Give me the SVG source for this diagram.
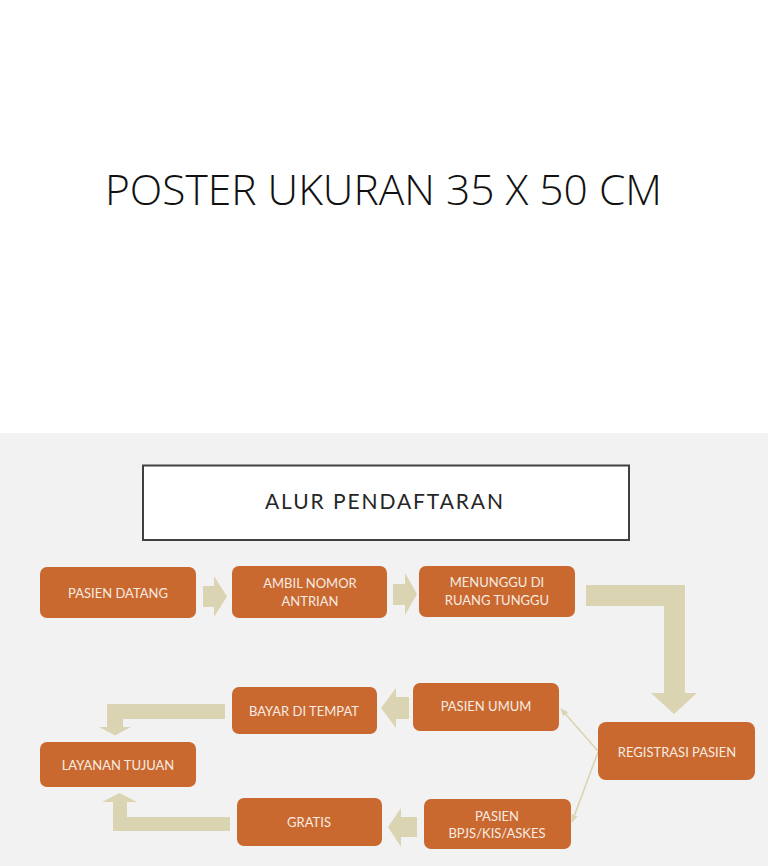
<svg xmlns="http://www.w3.org/2000/svg" width="768" height="866" viewBox="0 0 768 866">
<style>
.node{fill:#c96930;}
.nt{font-family:Lato,"Open Sans","Liberation Sans",sans-serif;font-size:13px;fill:#f7ebe2;text-anchor:middle;}
.arr{fill:#dbd4b3;}
.ln{stroke:#dbd4b3;stroke-width:1.6;fill:none;}
</style>
<defs>
<marker id="ah" viewBox="0 0 10 10" refX="9" refY="5" markerWidth="5" markerHeight="5" orient="auto">
<path d="M0,1 L10,5 L0,9 z" fill="#dbd4b3"/>
</marker>
</defs>
<rect x="0" y="0" width="768" height="433" fill="#ffffff"/>
<rect x="0" y="433" width="768" height="433" fill="#f2f2f2"/>
<text x="383.5" y="205" font-family="'Open Sans','Liberation Sans',sans-serif" font-size="42" font-weight="300" fill="#111111" text-anchor="middle" textLength="557" lengthAdjust="spacingAndGlyphs">POSTER UKURAN 35 X 50 CM</text>

<g id="header">
<rect x="143" y="465.5" width="486" height="74.5" fill="#ffffff" stroke="#404040" stroke-width="2"/>
<text x="384" y="509" font-family="Lato,'Open Sans','Liberation Sans',sans-serif" font-size="21" fill="#262626" text-anchor="middle" textLength="238" lengthAdjust="spacing">ALUR PENDAFTARAN</text>
</g>

<g id="connectors">
<!-- straight right arrows -->
<path class="arr" d="M203,586 H214 V576 L227,596.5 L214,617 V607 H203 Z"/>
<path class="arr" d="M393,584 H405 V573 L417,594 L405,615 V605 H393 Z"/>
<!-- bent arrow to registrasi -->
<path class="arr" d="M586,585 H685 V693 H697 L674,714 L651,693 H664 V606 H586 Z"/>
<!-- left arrows -->
<path class="arr" d="M409,697 V719 H396 V728 L381,708 L396,688 V697 Z"/>
<path class="arr" d="M417,817 V837 H401 V847 L388,827 L401,808 V817 Z"/>
<!-- bent arrows to layanan -->
<path class="arr" d="M225,704 V719 H123 V727 H131 L115,735.5 L99,727 H107 V704 Z"/>
<path class="arr" d="M230,817 V831 H113 V802 H102 L119.5,793 L137,802 H127 V817 Z"/>
<!-- thin lines -->
<line class="ln" x1="598" y1="751" x2="561" y2="709" marker-end="url(#ah)"/>
<line class="ln" x1="598" y1="752" x2="572" y2="822" marker-end="url(#ah)"/>
</g>

<g id="n-pasien-datang">
<rect class="node" x="40" y="567" width="156" height="51" rx="7"/>
<text class="nt" x="118" y="598">PASIEN DATANG</text>
</g>
<g id="n-ambil-nomor">
<rect class="node" x="232" y="566" width="155" height="52" rx="7"/>
<text class="nt" x="310" y="588">AMBIL NOMOR</text>
<text class="nt" x="310" y="606">ANTRIAN</text>
</g>
<g id="n-menunggu">
<rect class="node" x="419" y="566" width="156" height="51" rx="7"/>
<text class="nt" x="497" y="587">MENUNGGU DI</text>
<text class="nt" x="497" y="605">RUANG TUNGGU</text>
</g>
<g id="n-registrasi">
<rect class="node" x="598" y="722" width="157" height="58" rx="8"/>
<text class="nt" x="677" y="757">REGISTRASI PASIEN</text>
</g>
<g id="n-pasien-umum">
<rect class="node" x="413" y="683" width="146" height="48" rx="7"/>
<text class="nt" x="486" y="711">PASIEN UMUM</text>
</g>
<g id="n-pasien-bpjs">
<rect class="node" x="424" y="799" width="147" height="50" rx="7"/>
<text class="nt" x="497" y="821">PASIEN</text>
<text class="nt" x="497" y="838">BPJS/KIS/ASKES</text>
</g>
<g id="n-bayar">
<rect class="node" x="232" y="687" width="145" height="47" rx="7"/>
<text class="nt" x="304" y="716">BAYAR DI TEMPAT</text>
</g>
<g id="n-gratis">
<rect class="node" x="237" y="798" width="145" height="48" rx="7"/>
<text class="nt" x="309" y="827">GRATIS</text>
</g>
<g id="n-layanan">
<rect class="node" x="40" y="742" width="156" height="45" rx="7"/>
<text class="nt" x="118" y="770">LAYANAN TUJUAN</text>
</g>
</svg>
